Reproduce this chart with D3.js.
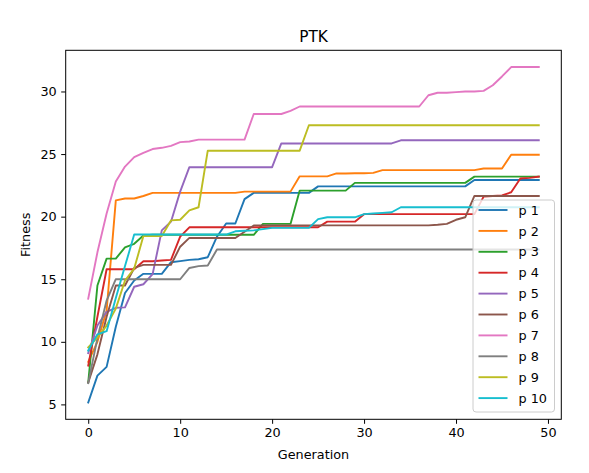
<!DOCTYPE html>
<html>
<head>
<meta charset="utf-8">
<script src="https://cdnjs.cloudflare.com/ajax/libs/d3/7.8.5/d3.min.js"></script>
<style>
  body { margin: 0; background: #fff; }
  text { font-family: "DejaVu Sans", sans-serif; }
</style>
</head>
<body>
<div id="chart"></div>
<script>
// fitness per generation
const p1 = [5.15, 7.3, 8.0, 11.2, 13.9, 14.9, 15.43, 15.43, 15.43, 16.36,
  16.45, 16.55, 16.6, 16.76, 18.4, 19.45, 19.45, 21.4, 21.9, 21.9,
  21.9, 21.9, 21.9, 21.9, 21.9, 22.42, 22.42, 22.42, 22.42, 22.42,
  22.42, 22.42, 22.42, 22.42, 22.42, 22.42, 22.42, 22.42, 22.42, 22.42,
  22.42, 22.42, 22.93, 22.93, 22.93, 22.93, 22.93, 22.93, 22.93, 22.93];
const p2 = [8.4, 10.0, 12.5, 21.3, 21.45, 21.45, 21.65, 21.9, 21.9, 21.9,
  21.9, 21.9, 21.9, 21.9, 21.9, 21.9, 21.9, 22.0, 22.0, 22.0,
  22.0, 22.0, 22.0, 23.22, 23.22, 23.22, 23.22, 23.45, 23.45, 23.47,
  23.47, 23.5, 23.72, 23.72, 23.72, 23.72, 23.72, 23.72, 23.72, 23.72,
  23.72, 23.72, 23.72, 23.85, 23.85, 23.85, 24.95, 24.95, 24.95, 24.95];
const p3 = [6.75, 14.5, 16.65, 16.65, 17.55, 17.83, 18.5, 18.55, 18.55, 18.55,
  18.55, 18.55, 18.55, 18.55, 18.55, 18.55, 18.55, 18.55, 18.55, 19.42,
  19.42, 19.42, 19.42, 22.08, 22.08, 22.08, 22.08, 22.08, 22.08, 22.7,
  22.7, 22.7, 22.7, 22.7, 22.7, 22.7, 22.7, 22.7, 22.7, 22.7,
  22.7, 22.7, 23.2, 23.2, 23.2, 23.2, 23.2, 23.2, 23.2, 23.2];
const p4 = [8.1, 12.0, 15.8, 15.8, 15.8, 15.8, 16.44, 16.44, 16.5, 16.55,
  18.4, 19.15, 19.15, 19.15, 19.15, 19.15, 19.15, 19.15, 19.15, 19.15,
  19.15, 19.15, 19.15, 19.15, 19.15, 19.15, 19.6, 19.6, 19.6, 19.6,
  20.2, 20.2, 20.2, 20.2, 20.2, 20.2, 20.2, 20.2, 20.2, 20.2,
  20.2, 20.2, 20.2, 21.6, 21.65, 21.7, 21.95, 23.05, 23.1, 23.2];
const p5 = [9.1, 11.3, 12.4, 12.72, 12.75, 14.4, 14.6, 15.4, 18.9, 19.6,
  22.0, 23.95, 23.95, 23.95, 23.95, 23.95, 23.95, 23.95, 23.95, 23.95,
  23.95, 25.85, 25.85, 25.85, 25.85, 25.85, 25.85, 25.85, 25.85, 25.85,
  25.85, 25.85, 25.85, 25.85, 26.1, 26.1, 26.1, 26.1, 26.1, 26.1,
  26.1, 26.1, 26.1, 26.1, 26.1, 26.1, 26.1, 26.1, 26.1, 26.1];
const p6 = [6.75, 9.0, 12.0, 14.5, 14.5, 15.9, 16.15, 16.15, 16.15, 16.15,
  17.6, 18.3, 18.3, 18.3, 18.3, 18.3, 18.3, 18.8, 19.3, 19.3,
  19.3, 19.3, 19.3, 19.3, 19.3, 19.3, 19.3, 19.3, 19.3, 19.3,
  19.3, 19.3, 19.3, 19.3, 19.3, 19.3, 19.3, 19.3, 19.35, 19.42,
  19.75, 19.95, 21.65, 21.65, 21.65, 21.65, 21.65, 21.65, 21.65, 21.65];
const p7 = [13.45, 17.15, 20.25, 22.8, 24.0, 24.75, 25.1, 25.4, 25.5, 25.65,
  25.95, 26.0, 26.15, 26.15, 26.15, 26.15, 26.15, 26.15, 28.2, 28.2,
  28.2, 28.2, 28.45, 28.8, 28.8, 28.8, 28.8, 28.8, 28.8, 28.8,
  28.8, 28.8, 28.8, 28.8, 28.8, 28.8, 28.8, 29.7, 29.9, 29.9,
  29.95, 30.0, 30.0, 30.05, 30.5, 31.2, 31.95, 31.95, 31.95, 31.95];
const p8 = [6.7, 10.3, 13.3, 15.0, 15.0, 15.0, 15.0, 15.0, 15.0, 15.0,
  15.0, 15.9, 16.05, 16.1, 17.37, 17.37, 17.37, 17.37, 17.37, 17.37,
  17.37, 17.37, 17.37, 17.37, 17.37, 17.37, 17.37, 17.37, 17.37, 17.37,
  17.37, 17.37, 17.37, 17.37, 17.37, 17.37, 17.37, 17.37, 17.37, 17.37,
  17.37, 17.37, 17.37, 17.37, 17.37, 17.37, 17.37, 17.37, 17.37, 17.37];
const p9 = [9.55, 10.35, 11.3, 12.65, 14.9, 15.85, 18.45, 18.45, 18.45, 19.7,
  19.75, 20.5, 20.75, 25.27, 25.27, 25.27, 25.27, 25.27, 25.27, 25.27,
  25.27, 25.27, 25.27, 25.27, 27.3, 27.3, 27.3, 27.3, 27.3, 27.3,
  27.3, 27.3, 27.3, 27.3, 27.3, 27.3, 27.3, 27.3, 27.3, 27.3,
  27.3, 27.3, 27.3, 27.3, 27.3, 27.3, 27.3, 27.3, 27.3, 27.3];
const p10 = [9.3, 10.6, 10.85, 13.5, 16.05, 18.57, 18.57, 18.57, 18.57, 18.57,
  18.57, 18.57, 18.57, 18.57, 18.57, 18.57, 18.83, 18.87, 18.9, 19.0,
  19.1, 19.1, 19.1, 19.1, 19.1, 19.8, 19.95, 19.95, 19.95, 19.95,
  20.2, 20.25, 20.3, 20.35, 20.75, 20.75, 20.75, 20.75, 20.75, 20.75,
  20.75, 20.75, 20.75, 20.75, 20.75, 20.75, 20.75, 20.75, 20.75, 20.75];

const seriesNames = ['p 1', 'p 2', 'p 3', 'p 4', 'p 5', 'p 6', 'p 7', 'p 8', 'p 9', 'p 10'];
const seriesValues = [p1, p2, p3, p4, p5, p6, p7, p8, p9, p10];
const xTicks = [0, 10, 20, 30, 40, 50];
const yTicks = [5, 10, 15, 20, 25, 30];

const colors = ['#1f77b4', '#ff7f0e', '#2ca02c', '#d62728', '#9467bd',
  '#8c564b', '#e377c2', '#7f7f7f', '#bcbd22', '#17becf'];

const width = 589;
const height = 473;
const axLeft = 65.7, axRight = 561.3, axTop = 50.3, axBottom = 419.3;

const data = seriesNames.map((name, k) => ({
  name: name,
  color: colors[k],
  values: seriesValues[k].map((v, i) => ({ x: i, y: v }))
}));

/* Scale, matplotlib style 5% padding */
const all = data.flatMap((d) => d.values);
const xExt = d3.extent(all, (d) => d.x);
const yExt = d3.extent(all, (d) => d.y);
const xPad = (xExt[1] - xExt[0]) * 0.05;
const yPad = (yExt[1] - yExt[0]) * 0.05;

const xScale = d3.scaleLinear()
  .domain([xExt[0] - xPad, xExt[1] + xPad])
  .range([axLeft, axRight]);

const yScale = d3.scaleLinear()
  .domain([yExt[0] - yPad, yExt[1] + yPad])
  .range([axBottom, axTop]);

const svg = d3.select('#chart')
  .append('svg')
  .attr('width', width)
  .attr('height', height);

svg.append('rect')
  .attr('width', width)
  .attr('height', height)
  .attr('fill', '#fff');

/* Lines */
const line = d3.line()
  .x((d) => xScale(d.x))
  .y((d) => yScale(d.y));

svg.append('g')
  .selectAll('path')
  .data(data)
  .enter()
  .append('path')
  .attr('d', (d) => line(d.values))
  .attr('fill', 'none')
  .attr('stroke', (d) => d.color)
  .attr('stroke-width', 1.9)
  .attr('stroke-linejoin', 'round')
  .attr('stroke-linecap', 'square');

/* Axes */
const xAxis = d3.axisBottom(xScale).tickValues(xTicks).tickSize(4.5).tickPadding(4.5);
const yAxis = d3.axisLeft(yScale).tickValues(yTicks).tickSize(4.5).tickPadding(4.5);

const gx = svg.append('g')
  .attr('transform', `translate(0, ${axBottom})`)
  .call(xAxis);
const gy = svg.append('g')
  .attr('transform', `translate(${axLeft}, 0)`)
  .call(yAxis);

[gx, gy].forEach((g) => {
  g.select('.domain').remove();
  g.selectAll('.tick line').attr('stroke', '#000').attr('stroke-width', 1);
  g.selectAll('.tick text')
    .attr('fill', '#000')
    .style('font-size', '12.8px')
    .style('font-family', '"DejaVu Sans", sans-serif');
});

svg.append('rect')
  .attr('x', axLeft)
  .attr('y', axTop)
  .attr('width', axRight - axLeft)
  .attr('height', axBottom - axTop)
  .attr('fill', 'none')
  .attr('stroke', '#000')
  .attr('stroke-width', 1);

/* Labels */
svg.append('text')
  .attr('x', (axLeft + axRight) / 2)
  .attr('y', 42)
  .attr('text-anchor', 'middle')
  .style('font-size', '15.3px')
  .text('PTK');

svg.append('text')
  .attr('x', (axLeft + axRight) / 2)
  .attr('y', 459)
  .attr('text-anchor', 'middle')
  .style('font-size', '12.8px')
  .text('Generation');

svg.append('text')
  .attr('transform', `translate(30, ${(axTop + axBottom) / 2}) rotate(-90)`)
  .attr('text-anchor', 'middle')
  .style('font-size', '12.8px')
  .text('Fitness');

/* Legend */
const legend = svg.append('g');
legend.append('rect')
  .attr('x', 473)
  .attr('y', 200)
  .attr('width', 81.5)
  .attr('height', 212)
  .attr('rx', 3)
  .attr('fill', '#fff')
  .attr('fill-opacity', 0.8)
  .attr('stroke', '#cccccc')
  .attr('stroke-width', 1);

const item = legend.selectAll('.item')
  .data(data)
  .enter()
  .append('g')
  .attr('transform', (d, i) => `translate(0, ${210 + i * 20.9})`);

item.append('line')
  .attr('x1', 478.5)
  .attr('x2', 507.5)
  .attr('stroke', (d) => d.color)
  .attr('stroke-width', 1.9);

item.append('text')
  .attr('x', 518.5)
  .attr('y', 4.6)
  .style('font-size', '12.8px')
  .attr('fill', '#000')
  .text((d) => d.name);
</script>
</body>
</html>
